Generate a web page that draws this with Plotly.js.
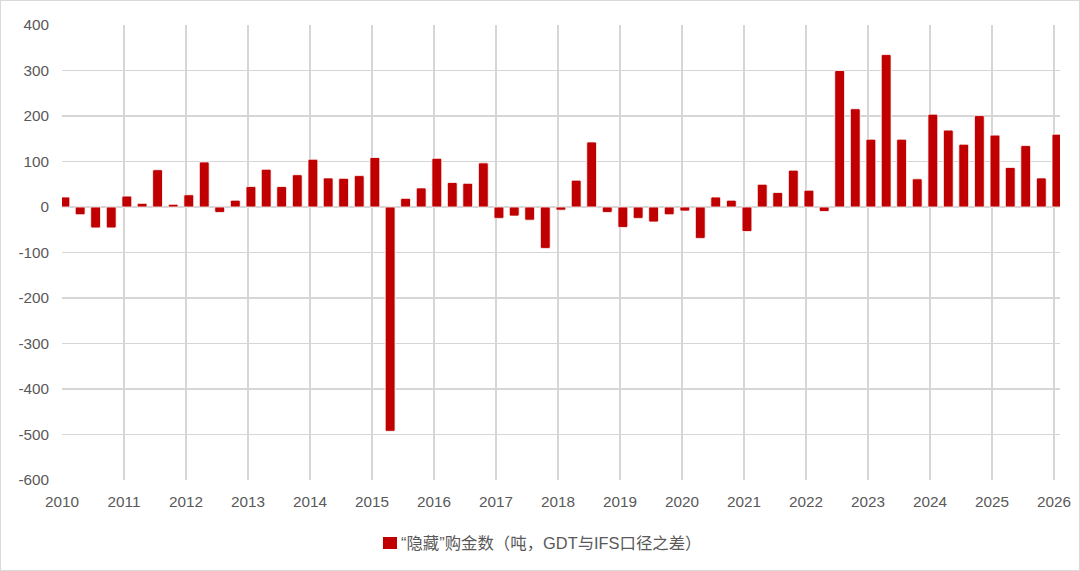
<!DOCTYPE html>
<html>
<head>
<meta charset="utf-8">
<script src="https://cdn.plot.ly/plotly-3.0.1.min.js"></script>
<style>
  html, body { margin: 0; padding: 0; background: #fff; }
  #chart { width: 1080px; height: 571px; box-sizing: border-box; border: 1px solid #d9d9d9; }
</style>
</head>
<body>
<div id="chart"></div>
<script>
// 季度标签
const quarters = [
  '2010Q1', '2010Q2', '2010Q3', '2010Q4',
  '2011Q1', '2011Q2', '2011Q3', '2011Q4',
  '2012Q1', '2012Q2', '2012Q3', '2012Q4',
  '2013Q1', '2013Q2', '2013Q3', '2013Q4',
  '2014Q1', '2014Q2', '2014Q3', '2014Q4',
  '2015Q1', '2015Q2', '2015Q3', '2015Q4',
  '2016Q1', '2016Q2', '2016Q3', '2016Q4',
  '2017Q1', '2017Q2', '2017Q3', '2017Q4',
  '2018Q1', '2018Q2', '2018Q3', '2018Q4',
  '2019Q1', '2019Q2', '2019Q3', '2019Q4',
  '2020Q1', '2020Q2', '2020Q3', '2020Q4',
  '2021Q1', '2021Q2', '2021Q3', '2021Q4',
  '2022Q1', '2022Q2', '2022Q3', '2022Q4',
  '2023Q1', '2023Q2', '2023Q3', '2023Q4',
  '2024Q1', '2024Q2', '2024Q3', '2024Q4',
  '2025Q1', '2025Q2', '2025Q3', '2025Q4',
  '2026Q1'
];

// "隐藏"购金数（吨）
const hiddenBuying = [
  22, -17, -46, -46,
  24, 8, 82, 6,
  27, 99, -12, 15,
  45, 83, 45, 71,
  105, 64, 63, 69,
  109, -493, 19, 42,
  107, 54, 52, 97,
  -25, -20, -29, -91,
  -7, 59, 143, -12,
  -45, -25, -33, -17,
  -9, -69, 22, 15,
  -54, 50, 32, 81,
  37, -10, 300, 216,
  149, 335, 149, 62,
  204, 169, 138, 201,
  158, 87, 135, 64,
  160
];

const seriesName = '“隐藏”购金数（吨，GDT与IFS口径之差）';
const yTicks = [-600, -500, -400, -300, -200, -100, 0, 100, 200, 300, 400];

// 季度 -> 日期（放在季度首月）
const quarterDates = quarters.map(q => {
  const year = q.slice(0, 4);
  const month = 3 * (parseInt(q.slice(5), 10) - 1) + 1;
  return `${year}-${String(month).padStart(2, '0')}-18`;
});

const DAY = 86400000;
const fontFamily = '"Liberation Sans", Arial, "Noto Sans CJK SC", sans-serif';
const textColor = '#595959';
const gridColor = '#d6d6d6';
const barColor = '#c00000';

const barTrace = {
  type: 'bar',
  name: seriesName,
  x: quarterDates,
  y: hiddenBuying,
  width: 58 * DAY,
  marker: {
    color: barColor,
    cornerradius: 2,
    line: { color: '#ffffff', width: 0.8 }
  },
  showlegend: false,
  hoverinfo: 'x+y'
};

const layout = {
  width: 1078,
  height: 569,
  margin: { l: 61, r: 19, t: 24, b: 90, autoexpand: false },
  paper_bgcolor: '#ffffff',
  plot_bgcolor: '#ffffff',
  font: { family: fontFamily, size: 15, color: textColor },
  bargap: 0,
  xaxis: {
    type: 'date',
    range: ['2010-01-01', '2026-02-05'],
    tick0: '2010-01-01',
    dtick: 'M12',
    tickformat: '%Y',
    showgrid: true,
    gridcolor: gridColor,
    gridwidth: 1.3,
    zeroline: false,
    showline: false,
    ticks: '',
    ticklabelstandoff: 11,
    tickfont: { family: fontFamily, size: 15.3, color: textColor },
    fixedrange: true
  },
  yaxis: {
    range: [-600, 400],
    tickmode: 'array',
    tickvals: yTicks,
    ticktext: yTicks.map(String),
    showgrid: true,
    gridcolor: gridColor,
    gridwidth: 1.3,
    zeroline: true,
    zerolinecolor: gridColor,
    zerolinewidth: 1.3,
    showline: false,
    ticks: '',
    ticklabelstandoff: 12,
    tickfont: { family: fontFamily, size: 15.3, color: textColor },
    fixedrange: true
  },
  showlegend: false,
  // 图例：色块 + 文字
  shapes: [{
    type: 'rect',
    xref: 'paper', yref: 'paper',
    x0: 0.3216, x1: 0.3357,
    y0: -0.1253, y1: -0.1516,
    fillcolor: barColor,
    line: { width: 0 }
  }],
  annotations: [{
    xref: 'paper', yref: 'paper',
    x: 0.3377, y: -0.1385,
    xanchor: 'left', yanchor: 'middle',
    text: seriesName,
    showarrow: false,
    font: { family: fontFamily, size: 16.4, color: textColor }
  }]
};

Plotly.newPlot('chart', [barTrace], layout, { displayModeBar: false, staticPlot: true });
</script>
</body>
</html>
